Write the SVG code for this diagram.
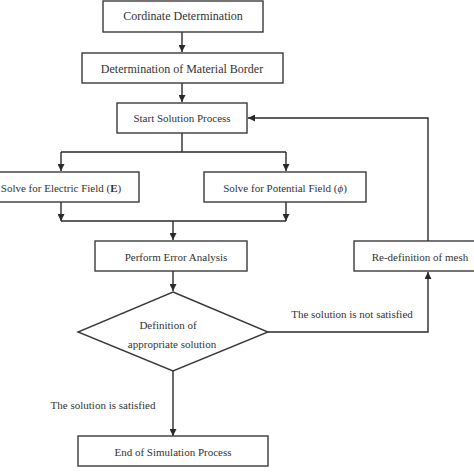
<svg xmlns="http://www.w3.org/2000/svg" width="474" height="474" viewBox="0 0 474 474">
<defs>
<marker id="ah" viewBox="0 0 10 10" refX="10" refY="5" markerWidth="7" markerHeight="7" markerUnits="userSpaceOnUse" orient="auto">
<path d="M0,0 L10,5 L0,10 z" fill="#2a2a2a"/>
</marker>
</defs>
<style>
.box{fill:#fff;stroke:#3a3a3a;stroke-width:1.4}
.ln{fill:none;stroke:#2a2a2a;stroke-width:1.4}
text{font-family:"Liberation Serif","Times New Roman",serif;fill:#333;text-anchor:middle}
.t12{font-size:12px}
.t11{font-size:11px}
</style>
<rect width="474" height="474" fill="#fff"/>
<g id="connectors">
<path class="ln" d="M182,32 V52" marker-end="url(#ah)"/>
<path class="ln" d="M182,83 V102" marker-end="url(#ah)"/>
<path class="ln" d="M182,133 V152"/>
<path class="ln" d="M61,152 H286"/>
<path class="ln" d="M61,152 V171" marker-end="url(#ah)"/>
<path class="ln" d="M286,152 V171" marker-end="url(#ah)"/>
<path class="ln" d="M61,202 V221" marker-end="url(#ah)"/>
<path class="ln" d="M286,202 V221" marker-end="url(#ah)"/>
<path class="ln" d="M61,221 H286"/>
<path class="ln" d="M173,221 V240" marker-end="url(#ah)"/>
<path class="ln" d="M173,271 V291" marker-end="url(#ah)"/>
<path class="ln" d="M173,371 V436" marker-end="url(#ah)"/>
<path class="ln" d="M268,332 H428 V272" marker-end="url(#ah)"/>
<path class="ln" d="M428,241 V118 H248" marker-end="url(#ah)"/>
</g>
<g id="n1"><rect class="box" x="103" y="1" width="160" height="31"/><text class="t12" x="183" y="20">Cordinate Determination</text></g>
<g id="n2"><rect class="box" x="82" y="53" width="201" height="30"/><text class="t12" x="182" y="73">Determination of Material Border</text></g>
<g id="n3"><rect class="box" x="117" y="103" width="130" height="30"/><text class="t11" x="182" y="122">Start Solution Process</text></g>
<g id="n4"><rect class="box" x="-10" y="172" width="149" height="30"/><text class="t11" x="61" y="192">Solve for Electric Field (<tspan font-weight="bold">E</tspan>)</text></g>
<g id="n5"><rect class="box" x="204" y="172" width="162" height="30"/><text class="t11" x="285" y="192">Solve for Potential Field (<tspan font-style="italic">ϕ</tspan>)</text></g>
<g id="n6"><rect class="box" x="95" y="241" width="152" height="30"/><text class="t11" x="176" y="261">Perform Error Analysis</text></g>
<g id="n7"><rect class="box" x="354" y="241" width="125" height="30"/><text class="t11" x="420" y="261">Re-definition of mesh</text></g>
<g id="n8"><polygon class="box" points="173,292 268,332 173,371 78,332"/><text class="t11" x="168" y="329">Definition of</text><text class="t11" x="172" y="348">appropriate solution</text></g>
<g id="n9"><rect class="box" x="78" y="436" width="190" height="30"/><text class="t11" x="173" y="456">End of Simulation Process</text></g>
<g id="labels">
<text class="t11" x="352" y="318">The solution is not satisfied</text>
<text class="t11" x="103" y="409">The solution is satisfied</text>
</g>
</svg>
